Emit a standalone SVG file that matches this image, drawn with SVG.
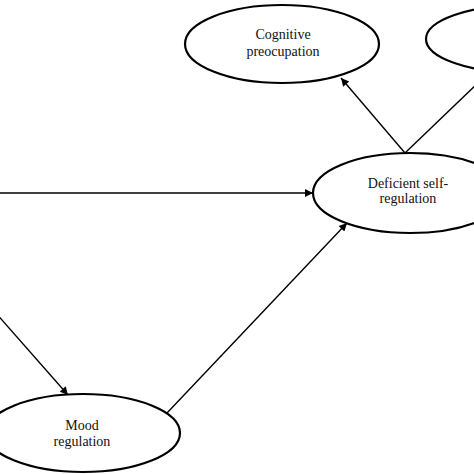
<svg xmlns="http://www.w3.org/2000/svg" width="474" height="474" viewBox="0 0 474 474">
<style>
.node ellipse{fill:#fff;stroke:#000;stroke-width:2.2}
.node text{font-family:"Liberation Serif","Times New Roman",serif;font-size:14px;fill:#111;text-anchor:middle}
.edges line{stroke:#000;stroke-width:1.4}
</style>
<defs>
<marker id="arr" viewBox="0 0 10 10" refX="10" refY="5" markerWidth="10" markerHeight="8" markerUnits="userSpaceOnUse" orient="auto">
<path d="M0,0 L10,5 L0,10 z" fill="#000"/>
</marker>
</defs>
<rect width="474" height="474" fill="#fff"/>
<g class="edges">
<line x1="405" y1="153" x2="341" y2="78" marker-end="url(#arr)"/>
<line x1="405" y1="153" x2="480" y2="81"/>
<line x1="0" y1="193" x2="313" y2="193" marker-end="url(#arr)"/>
<line x1="167" y1="413" x2="347" y2="223" marker-end="url(#arr)"/>
<line x1="-5" y1="312" x2="68" y2="395" marker-end="url(#arr)"/>
</g>
<g id="cognitive" class="node">
<ellipse cx="282" cy="44" rx="97" ry="39"/>
<text x="283" y="39">Cognitive</text>
<text x="283" y="56">preocupation</text>
</g>
<g id="topright" class="node">
<ellipse cx="523" cy="39" rx="97" ry="34"/>
</g>
<g id="deficient" class="node">
<ellipse cx="410" cy="193" rx="97" ry="40"/>
<text x="408" y="188">Deficient self-</text>
<text x="408" y="203">regulation</text>
</g>
<g id="mood" class="node">
<ellipse cx="83" cy="433" rx="97" ry="39"/>
<text x="82" y="430">Mood</text>
<text x="82" y="446">regulation</text>
</g>
</svg>
